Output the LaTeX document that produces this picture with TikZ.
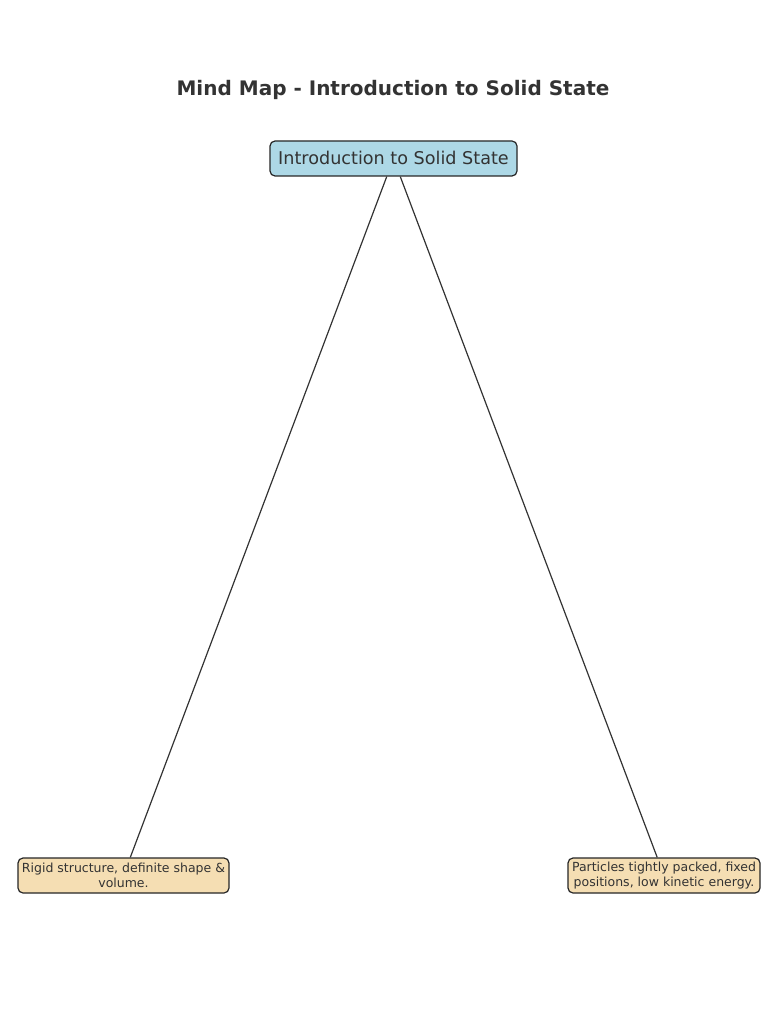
\documentclass[tikz,border=0pt]{standalone}
\usepackage{fontspec}
\setmainfont{DejaVu Sans}
\definecolor{txt}{HTML}{333333}
\definecolor{rootfill}{HTML}{ADD8E6}
\definecolor{leaffill}{HTML}{F5DEB3}
\tikzset{
  box/.style={draw=black!85, line width=1.2pt, rounded corners=5pt, text=txt, align=center, inner sep=0pt},
  rootbox/.style={box, fill=rootfill, font=\fontsize{17.6}{20}\selectfont},
  leafbox/.style={box, fill=leaffill, font=\fontsize{12.5}{15}\selectfont},
  link/.style={draw=txt, line width=1.2pt},
}
\begin{document}
\begin{tikzpicture}[x=1pt,y=-1pt]
\useasboundingbox (0,0) rectangle (768,1024);
\node[text=txt, font=\bfseries\fontsize{20}{24}\selectfont] (title) at (393,90) {Mind Map - Introduction to Solid State};
\node[rootbox, minimum width=247pt, minimum height=35pt] (root) at (393.5,158.5) {\raisebox{1.5pt}{Introduction to Solid State}};
\node[leafbox, minimum width=211pt, minimum height=35pt] (left) at (123.5,875.5) {Rigid structure, definite shape \&\\volume.};
\node[leafbox, minimum width=192pt, minimum height=35pt] (right) at (664,875.5) {Particles tightly packed, fixed\\positions, low kinetic energy.};
\draw[link] (root) -- (left);
\draw[link] (root) -- (right);
\end{tikzpicture}
\end{document}
